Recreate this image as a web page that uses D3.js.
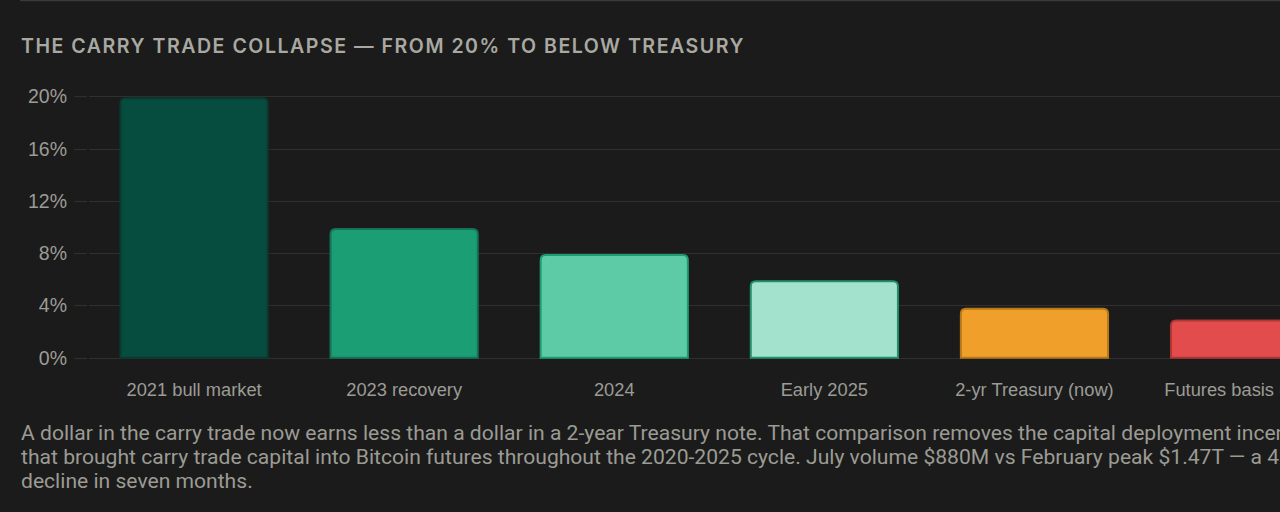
<!DOCTYPE html>
<html><head><meta charset="utf-8">
<script src="https://cdn.jsdelivr.net/npm/d3@7"></script>
<style>
html,body{margin:0;padding:0;background:#1b1b1b;overflow:hidden;width:1280px;height:512px;}
svg{display:block;}
</style></head>
<body>
<svg id="chart" width="1500" height="512"></svg>
<script>
const categories = ["2021 bull market","2023 recovery","2024","Early 2025","2-yr Treasury (now)","Futures basis (now)"];
const values = [20, 10, 8, 6, 3.9, 3.0];
const fillColors = ["#074d3f","#1c9e74","#5ecba7","#a3e2cd","#f0a02a","#e34c4c"];
const strokeColors = ["#0a3b31","#137458","#1f9c74","#23906c","#b87818","#b03535"];
const yTicks = [0,4,8,12,16,20];
const title = "THE CARRY TRADE COLLAPSE — FROM 20% TO BELOW TREASURY";
const noteLines = [
 "A dollar in the carry trade now earns less than a dollar in a 2-year Treasury note. That comparison removes the capital deployment incentive",
 "that brought carry trade capital into Bitcoin futures throughout the 2020-2025 cycle. July volume $880M vs February peak $1.47T — a 40%",
 "decline in seven months."
];

const svg = d3.select("#chart");
svg.append("line").attr("x1",20).attr("x2",1500).attr("y1",0.5).attr("y2",0.5)
  .attr("stroke","#3a3a3a").attr("stroke-width",1.5);

svg.append("text").attr("x",21).attr("y",53).text(title)
  .attr("font-family","Inter, 'Noto Sans', sans-serif").attr("font-weight",600)
  .attr("font-size",19.6).attr("letter-spacing",1.5).attr("fill","#a9a9a2");

const x = d3.scaleBand().domain(categories).range([89, 89+6*210.1]).paddingInner(0.29).paddingOuter(0.145);
const y = d3.scaleLinear().domain([0,20]).range([357.7, 96.2]);

const g = svg.append("g");
g.selectAll(".grid").data(yTicks).join("line")
  .attr("x1",89).attr("x2",1500).attr("y1",d=>Math.round(y(d))+0.5).attr("y2",d=>Math.round(y(d))+0.5)
  .attr("stroke","#2f2f2f").attr("stroke-width",1.2);
g.selectAll(".tk").data(yTicks).join("line")
  .attr("x1",74).attr("x2",87).attr("y1",d=>Math.round(y(d))+0.5).attr("y2",d=>Math.round(y(d))+0.5)
  .attr("stroke","#2f2f2f").attr("stroke-width",1.2);
g.selectAll(".yl").data(yTicks).join("text")
  .attr("x",67).attr("y",d=>y(d)).attr("dy","0.36em").attr("text-anchor","end")
  .attr("font-family","'Liberation Sans', Arial, sans-serif").attr("font-size",19.5)
  .attr("fill","#9c9c96").text(d=>d+"%");

const bw = 2, r = 5;
function barPath(x0, x1, y0, y1){
  const rr = Math.min(r, (y1-y0));
  return `M${x0},${y1}L${x0},${y0+rr}Q${x0},${y0} ${x0+rr},${y0}L${x1-rr},${y0}Q${x1},${y0} ${x1},${y0+rr}L${x1},${y1}Z`;
}
g.selectAll(".bar").data(categories).join("path")
  .attr("d",(c,i)=>{
    const x0 = x(c)+bw/2, x1 = x(c)+x.bandwidth()-bw/2;
    const y0 = y(values[i])+bw/2+1, y1 = y(0);
    return barPath(x0,x1,y0,y1);
  })
  .attr("fill",(c,i)=>fillColors[i]).attr("stroke",(c,i)=>strokeColors[i]).attr("stroke-width",bw);

g.selectAll(".xl").data(categories).join("text")
  .attr("x",c=>x(c)+x.bandwidth()/2).attr("y",395.5).attr("text-anchor","middle")
  .attr("font-family","'Liberation Sans', Arial, sans-serif").attr("font-size",18.3)
  .attr("fill","#9c9c96").text(c=>c);

const note = svg.append("text").attr("font-family","Roboto, sans-serif").attr("font-size",21.1)
  .attr("fill","#9b9b94");
note.selectAll("tspan").data(noteLines).join("tspan")
  .attr("x",21).attr("y",(d,i)=>440+i*24.2).text(d=>d);
</script>
</body></html>
